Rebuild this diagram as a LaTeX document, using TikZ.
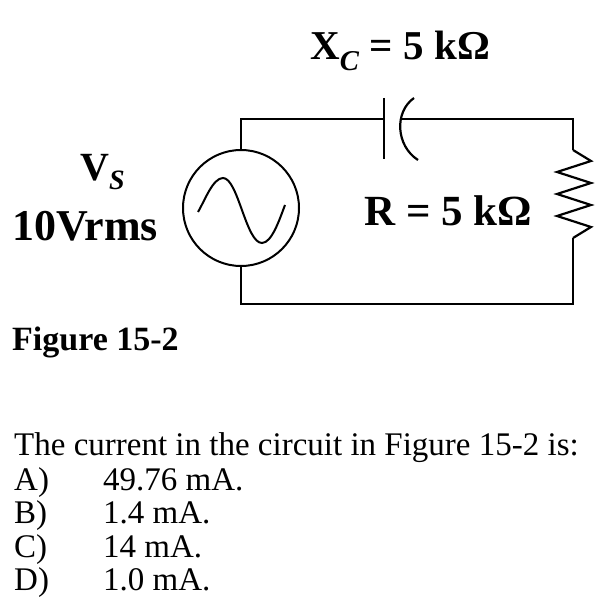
\documentclass[tikz,border=0pt]{standalone}
\usepackage{fontspec}
\setmainfont{Liberation Serif}
\begin{document}
\begin{tikzpicture}[x=1pt,y=-1pt,
  wire/.style={line width=2.2pt,line join=miter},
  lbl/.style={anchor=base west,inner sep=0pt,font=\fontsize{43}{46}\selectfont\bfseries},
  txt/.style={anchor=base west,inner sep=0pt,font=\fontsize{33}{36}\selectfont}]
\useasboundingbox (0,0) rectangle (615,604);
\coordinate (tl) at (241,119);
\coordinate (tr) at (573,119);
\coordinate (bl) at (241,304);
\coordinate (br) at (573,304);
\coordinate (c1) at (384,119);
\coordinate (c2) at (401,119);
\coordinate (rt) at (573,150);
\coordinate (rb) at (573,238);
\node[draw,circle,line width=2pt,minimum size=116pt,inner sep=0pt] (src) at (241,208) {};
% wires
\draw[wire] (src.north) -- (tl) -- (c1);
\draw[wire] (c2) -- (tr) -- (rt);
\draw[wire] (rb) -- (br) -- (bl) -- (src.south);
% capacitor
\draw[wire] (384,98) -- (384,159);
\draw[wire] (414,98) .. controls (394,112) and (396,146) .. (418,160);
% resistor
\draw[wire] (rt) -- (591,161) -- (557,172) -- (591,183) -- (557,194) -- (591,205) -- (557,216) -- (591,227) -- (rb);
% sine
\draw[line width=2pt] (198,212) .. controls (205,200) and (213,178) .. (223,178)
  .. controls (238,178) and (246,243) .. (262,243) .. controls (272,243) and (280,218) .. (285,205);
% labels
\node[lbl,font=\fontsize{41}{44}\selectfont\bfseries] (xc) at (310,60) {X\textsubscript{\textit{C}} = 5 kΩ};
\node[lbl,font=\fontsize{40}{44}\selectfont\bfseries] (vs) at (80,180) {V\textsubscript{\textit{S}}};
\node[lbl,font=\fontsize{44}{46}\selectfont\bfseries] (vr) at (12,240) {10Vrms};
\node[lbl] (rl) at (364,225) {R = 5 kΩ};
\node[lbl,font=\fontsize{34}{36}\selectfont\bfseries] (fig) at (12,350) {Figure 15-2};
\node[txt] (q) at (14,455) {The current in the circuit in Figure 15-2 is:};
\node[txt] (a) at (14,490) {A)};
\node[txt] (at) at (103,490) {49.76 mA.};
\node[txt] (b) at (14,523) {B)};
\node[txt] (bt) at (103,523) {1.4 mA.};
\node[txt] (c) at (14,557) {C)};
\node[txt] (ct) at (103,557) {14 mA.};
\node[txt] (d) at (14,590) {D)};
\node[txt] (dt) at (103,590) {1.0 mA.};
\end{tikzpicture}
\end{document}
